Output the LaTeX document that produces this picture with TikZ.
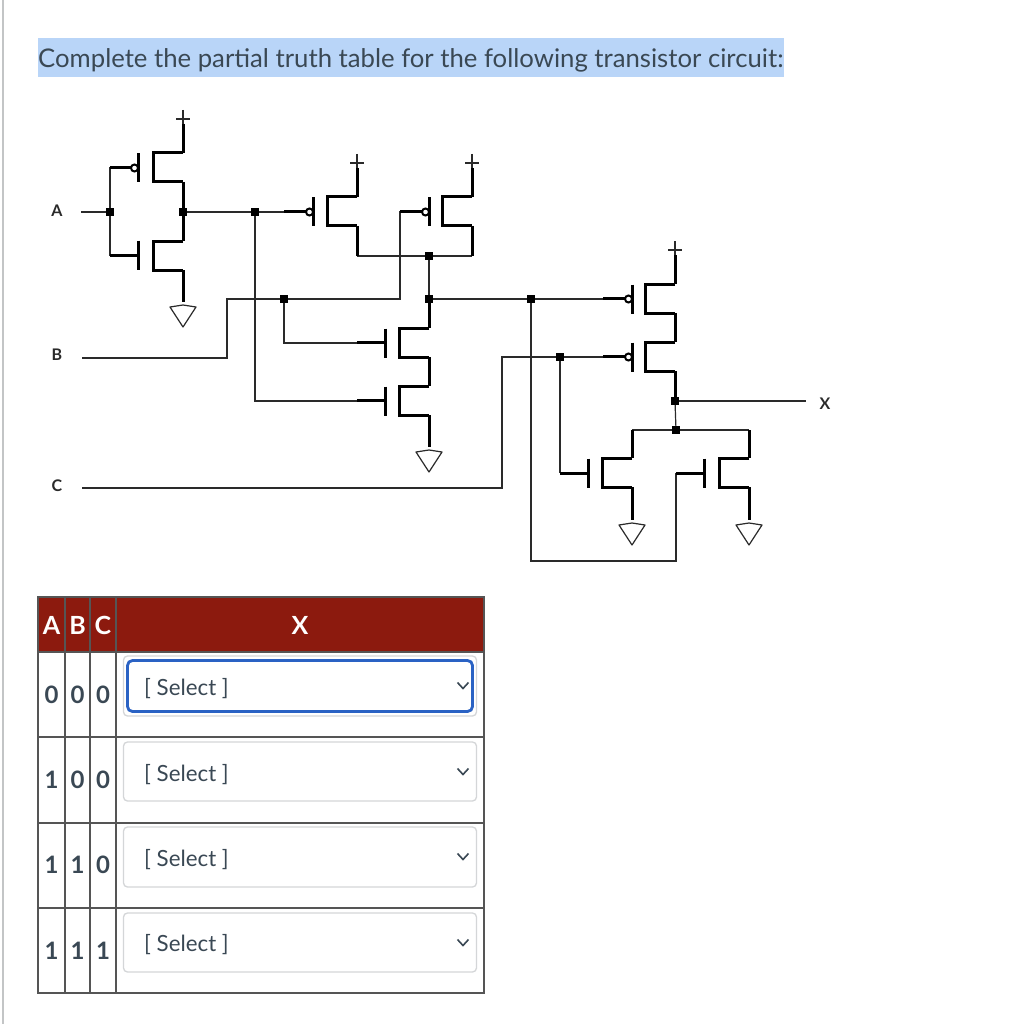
\documentclass[tikz,border=0pt]{standalone}
\usepackage{fontspec}
\setmainfont{Lato}
\definecolor{wirec}{HTML}{2A2A2A}
\definecolor{hdr}{HTML}{8C1A0E}
\definecolor{hilite}{HTML}{B9D5F8}
\definecolor{inkc}{HTML}{3A4854}
\definecolor{boxc}{HTML}{D4D6D8}
\definecolor{focusc}{HTML}{2A62C4}
\definecolor{gridc}{HTML}{555555}
\tikzset{
  wire/.style={draw=wirec,line width=1.2pt},
  heavyline/.style={draw=black,line width=3pt,line join=miter},
  gatebar/.style={draw=black,line width=3pt},
  dotj/.style={fill=black,inner sep=0pt,minimum size=7.5pt,rectangle},
  gnd/.style={draw=wirec,line width=1.2pt,fill=white,line join=round},
  siglabel/.style={font=\fontsize{16}{18}\selectfont\bfseries,text=wirec,inner sep=0pt},
  cellt/.style={font=\fontsize{24}{26}\selectfont\bfseries,text=inkc,inner sep=0pt},
  headt/.style={font=\fontsize{25}{28}\selectfont\bfseries,text=white,inner sep=0pt},
  seltext/.style={font=\fontsize{22.3}{26}\selectfont,text=inkc,inner sep=0pt,anchor=west},
  selbox/.style={draw=boxc,line width=1.3pt,rounded corners=4pt,fill=white},
  grid/.style={draw=gridc,line width=1.3pt},
  chev/.style={draw=inkc,line width=1.6pt}
}
\newcommand{\chan}[2]{\draw[heavyline] (#1,#2) -- ++(-30,0) -- ++(0,29) -- ++(30,0);}
\newcommand{\vdd}[3]{\draw[wire] (#1-7,#2) -- (#1+7,#2); \draw[wire] (#1,#2-9) -- (#1,#3); \draw[heavyline] (#1,#2+5) -- (#1,#3);}
\newcommand{\gndsym}[2]{\draw[gnd] (#1-13,#2+2) -- (#1,#2) -- (#1+13,#2+2) -- (#1,#2+22) -- cycle;}
\newcommand{\gbar}[2]{\draw[gatebar] (#1,#2-14.5) -- (#1,#2+14.5);}
\newcommand{\bubble}[2]{\draw[draw=black,line width=2pt,fill=white] (#1-3.5,#2) circle (3.5pt);}
\newcommand{\chevron}[2]{\draw[chev] (#1-5.5,#2-3.5) -- (#1,#2+2.5) -- (#1+5.5,#2-3.5);}
\begin{document}
\begin{tikzpicture}[x=1pt,y=-1pt]
\useasboundingbox (0,0) rectangle (1022,1024);
\fill[white] (0,0) rectangle (1022,1024);
\draw[draw=boxc!80!gray,line width=1.5pt] (3,0) -- (3,1024);
% title
\fill[hilite] (38,38) rectangle (784,77);
\node[anchor=base west,inner sep=0pt,text=inkc,font=\fontsize{25.7}{30}\selectfont] (title) at (38,68) {Complete the partial truth table for the following transistor circuit:};
% junctions
\node[dotj] (jA) at (110,212) {};
\node[dotj] (jN) at (183,212) {};
\node[dotj] (jI) at (255,212) {};
\node[dotj] (jB) at (284,299) {};
\node[dotj] (jT) at (429,256) {};
\node[dotj] (jM) at (429,299) {};
\node[dotj] (jO) at (531,299) {};
\node[dotj] (jC) at (560,357) {};
\node[dotj] (jX) at (675,401) {};
\node[dotj] (jL) at (676,430) {};
% free ends
\coordinate (aL) at (81,212);
\coordinate (bL) at (82,358);
\coordinate (cL) at (82,488);
\coordinate (xR) at (806,401);
% labels
\node[siglabel] (lA) at (57,211) {A};
\node[siglabel] (lB) at (57,355) {B};
\node[siglabel] (lC) at (57,486) {C};
\node[siglabel] (lX) at (825,404) {X};
% wires
\draw[wire] (aL) -- (jA);
\draw[wire] (jN) -- (jI) -- (284,212);
\draw[wire] (jA) -- (110,168) -- (131,168);
\draw[wire] (jA) -- (110,255) -- (138,255);
\draw[heavyline] (110,168) -- (131,168);
\draw[heavyline] (110,255) -- (138,255);
\draw[wire] (jI) -- (255,401) -- (357,401);
\draw[heavyline] (357,400.5) -- (385,400.5);
\draw[heavyline] (284,211.5) -- (307,211.5);
\draw[wire] (bL) -- (227,358) -- (227,299) -- (jB) -- (400,299) -- (400,211.5);
\draw[heavyline] (400,211.5) -- (424,211.5);
\draw[wire] (jB) -- (284,343) -- (357,343);
\draw[heavyline] (357,342.5) -- (385,342.5);
\draw[wire] (357,256) -- (jT) -- (472,256);
\draw[wire] (jT) -- (jM) -- (jO) -- (603,299);
\draw[heavyline] (603,298.5) -- (626,298.5);
\draw[wire] (cL) -- (502,488) -- (502,357) -- (jC) -- (603,357);
\draw[heavyline] (603,356.5) -- (626,356.5);
\draw[wire] (jC) -- (560,473);
\draw[heavyline] (560,473) -- (588,473);
\draw[wire] (jO) -- (531,561) -- (676,561) -- (676,473);
\draw[heavyline] (676,473) -- (704,473);
\draw[wire] (jX) -- (xR);
\draw[wire] (jX) -- (jL);
\draw[wire] (632,430) -- (jL) -- (749,430);
% inverter 1
\vdd{183}{119}{153}
\chan{183}{153}
\draw[heavyline] (183,182) -- (183,241);
\chan{183}{241}
\draw[heavyline] (183,270) -- (183,302);
\gndsym{183}{305}
\bubble{138}{168}\gbar{138}{168}
\gbar{138}{255}
% nand pull-ups
\vdd{357}{163}{197}
\chan{357}{197}
\draw[heavyline] (357,226) -- (357,256);
\bubble{313}{212}\gbar{313}{212}
\vdd{472}{163}{197}
\chan{472}{197}
\draw[heavyline] (472,226) -- (472,256);
\bubble{429}{212}\gbar{429}{212}
% nand pull-down
\draw[heavyline] (429,299) -- (429,328);
\chan{429}{328}
\draw[heavyline] (429,357) -- (429,386);
\chan{429}{386}
\draw[heavyline] (429,415) -- (429,447);
\gndsym{429}{450}
\gbar{385}{343}
\gbar{385}{401}
% nor pull-up
\vdd{675}{250}{284}
\chan{675}{284}
\draw[heavyline] (675,313) -- (675,342);
\chan{675}{342}
\draw[heavyline] (675,371) -- (675,401);
\bubble{632}{299}\gbar{632}{299}
\bubble{632}{357}\gbar{632}{357}
% nor pull-down
\draw[heavyline] (632,430) -- (632,458);
\chan{632}{458}
\draw[heavyline] (632,487) -- (632,520);
\gndsym{632}{523}
\gbar{588}{473}
\draw[heavyline] (749,430) -- (749,458);
\chan{749}{458}
\draw[heavyline] (749,487) -- (749,520);
\gndsym{749}{523}
\gbar{704}{473}
% table
\fill[hdr] (38,597) rectangle (484,652);
\draw[grid] (38,597) rectangle (484,993);
\foreach \yy in {652,737,823,908} \draw[grid] (38,\yy) -- (484,\yy);
\foreach \xx in {65,90,116} \draw[grid] (\xx,597) -- (\xx,993);
\node[headt] (hA) at (51.5,625) {A};
\node[headt] (hB) at (77.5,625) {B};
\node[headt] (hC) at (103,625) {C};
\node[headt] (hX) at (300,625) {X};
\node[cellt] (a1) at (51.5,695) {0};\node[cellt] (b1) at (77.5,695) {0};\node[cellt] (c1) at (103,695) {0};
\node[cellt] (a2) at (51.5,780) {1};\node[cellt] (b2) at (77.5,780) {0};\node[cellt] (c2) at (103,780) {0};
\node[cellt] (a3) at (51.5,865) {1};\node[cellt] (b3) at (77.5,865) {1};\node[cellt] (c3) at (103,865) {0};
\node[cellt] (a4) at (51.5,951) {1};\node[cellt] (b4) at (77.5,951) {1};\node[cellt] (c4) at (103,951) {1};
% select boxes
\draw[selbox] (123.5,656) rectangle (476.5,716);
\draw[draw=focusc,line width=2.8pt,rounded corners=5pt,fill=white] (127.5,660.5) rectangle (472.5,711.5);
\draw[selbox] (123.5,742) rectangle (476.5,801);
\draw[selbox] (123.5,827) rectangle (476.5,887);
\draw[selbox] (123.5,913) rectangle (476.5,972);
\node[seltext] (s1) at (144,689) {[ Select ]};
\node[seltext] (s2) at (144,775) {[ Select ]};
\node[seltext] (s3) at (144,860) {[ Select ]};
\node[seltext] (s4) at (144,945) {[ Select ]};
\chevron{463}{686}
\chevron{463}{772}
\chevron{463}{857}
\chevron{463}{943}
\end{tikzpicture}
\end{document}
